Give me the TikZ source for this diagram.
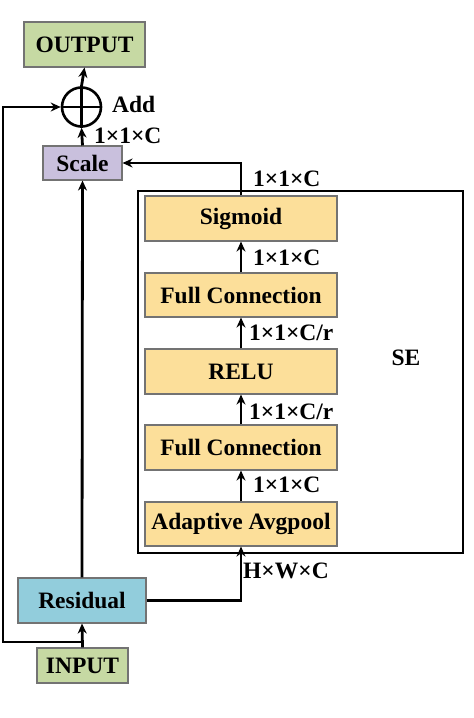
\documentclass[tikz,border=0pt]{standalone}
\usepackage{fontspec}
\setmainfont{Liberation Serif}
\usetikzlibrary{arrows.meta}
\definecolor{gbox}{HTML}{C6D9A3}
\definecolor{pbox}{HTML}{C9C0DD}
\definecolor{bbox}{HTML}{92CDDC}
\definecolor{ybox}{HTML}{FCDF9A}
\tikzset{
  blk/.style={draw=black!55, line width=1.1pt, inner sep=0pt, font=\fontsize{23.5}{26}\selectfont\bfseries},
  lbl/.style={inner sep=0pt, anchor=west, font=\fontsize{23.5}{26}\selectfont\bfseries},
  arr/.style={line width=2.8pt, -{Stealth[length=10pt,width=9pt]}},
}
\begin{document}
\begin{tikzpicture}[x=1pt,y=-1pt]
\useasboundingbox (0,0) rectangle (474,718);
% SE frame
\node[draw=black, line width=2.2pt, minimum width=325pt, minimum height=362pt, inner sep=0pt] (SE) at (300.5,372) {};
\node[lbl, anchor=center] (SElbl) at (406,358) {SE};
% blocks
\node[blk, fill=gbox, minimum width=121pt, minimum height=45pt] (out) at (84.5,44.5) {OUTPUT};
\node[draw=black, line width=2.6pt, circle, minimum size=39pt, inner sep=0pt] (add) at (81.5,107) {};
\draw[line width=2.6pt] (add.north) -- (add.south) (add.west) -- (add.east);
\node[blk, fill=pbox, minimum width=79pt, minimum height=34pt] (scale) at (82.5,163) {Scale};
\node[blk, fill=ybox, minimum width=192pt, minimum height=45pt] (sig) at (241,218.5) {Sigmoid};
\node[blk, fill=ybox, minimum width=192pt, minimum height=44pt] (fc1) at (241,295) {Full Connection};
\node[blk, fill=ybox, minimum width=192pt, minimum height=45pt] (relu) at (241,371.5) {RELU};
\node[blk, fill=ybox, minimum width=192pt, minimum height=45pt] (fc2) at (241,447.5) {Full Connection};
\node[blk, fill=ybox, minimum width=192pt, minimum height=44pt] (avg) at (241,524) {Adaptive Avgpool};
\node[blk, fill=bbox, minimum width=128pt, minimum height=45pt] (res) at (82,600.5) {Residual};
\node[blk, fill=gbox, minimum width=91pt, minimum height=35pt] (in) at (82.5,665.5) {INPUT};
% labels
\node[lbl] (laddt) at (112,104) {Add};
\node[lbl] (l0) at (94,136) {1×1×C};
\node[lbl] (l1) at (253,179) {1×1×C};
\node[lbl] (l2) at (253,258) {1×1×C};
\node[lbl] (l3) at (249,333) {1×1×C/r};
\node[lbl] (l4) at (249,412) {1×1×C/r};
\node[lbl] (l5) at (253,485) {1×1×C};
\node[lbl] (l6) at (243,571) {H×W×C};
% connectors
\draw[arr] (in.north) -- (res.south);
\draw[arr] (res.north) -- (scale.south);
\draw[arr] (scale.north) -- (add.south);
\draw[arr] (add.north) -- (out.south);
\coordinate (br) at (82,642);
\coordinate (lc) at (3,642);
\draw[arr] (br) -- (lc) |- (add.west);
\draw[arr] (res.east) -| (avg.south);
\draw[arr] (sig.north) |- (scale.east);
\draw[arr] (avg.north) -- (fc2.south);
\draw[arr] (fc2.north) -- (relu.south);
\draw[arr] (relu.north) -- (fc1.south);
\draw[arr] (fc1.north) -- (sig.south);
\end{tikzpicture}
\end{document}
